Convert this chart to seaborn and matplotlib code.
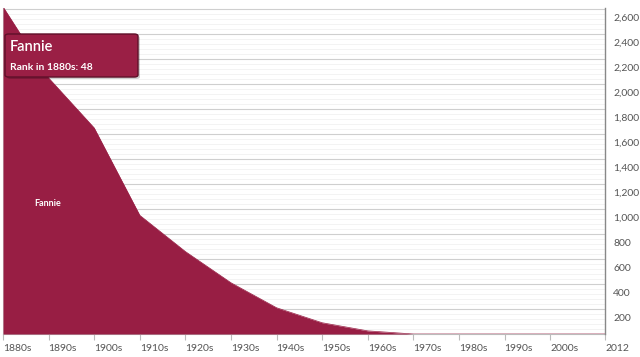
import matplotlib
matplotlib.use("Agg")
import matplotlib.pyplot as plt
import matplotlib.patches as mpatches
from matplotlib.transforms import ScaledTranslation
import seaborn as sns
import pandas as pd

years = [1880, 1890, 1900, 1910, 1920, 1930, 1940, 1950, 1960, 1970, 1980, 1990, 2000, 2012]
counts = [2620, 2050, 1650, 950, 660, 410, 210, 90, 25, 0, 0, 0, 0, 0]
xlabels = ["1880s", "1890s", "1900s", "1910s", "1920s", "1930s", "1940s", "1950s",
           "1960s", "1970s", "1980s", "1990s", "2000s", "2012"]
yticks = list(range(200, 2601, 200))
name = "Fannie"
rank_text = "Rank in 1880s: 48"

sns.set_style("white")
plt.rcParams["font.family"] = ["Lato", "DejaVu Sans"]

W, H = 640, 357
fig = plt.figure(figsize=(W / 100, H / 100), dpi=100)
ax = fig.add_axes([3 / W, (357 - 334) / H, (605 - 3) / W, (334 - 8) / H])

df = pd.DataFrame({"year": years, "count": counts})
color = "#981E44"
sns.lineplot(data=df, x="year", y="count", ax=ax, color=color, lw=0.5)
ax.fill_between(df["year"], df["count"], 0, color=color, lw=0, zorder=3)

ax.set_xlim(1880, 2012)
ax.set_ylim(0, 2610)

# grid
for v in range(40, 2610, 40):
    if v % 200:
        ax.axhline(v, color="#f1f1f1", lw=0.6, zorder=0)
for v in yticks:
    ax.axhline(v, color="#cfcfcf", lw=0.8, zorder=1)

ax.set_xticks(years)
ax.set_xticklabels(xlabels, ha="left", fontsize=7.5, color="#555555")
ax.tick_params(axis="x", length=4, color="#bbbbbb", width=0.8, pad=3, bottom=True)

ax.yaxis.tick_right()
ax.set_yticks(yticks)
ax.set_yticklabels([f"{v:,}" for v in yticks], fontsize=7.5, color="#555555")
ax.tick_params(axis="y", length=0, pad=6)
off = ScaledTranslation(0, -8 / 100, fig.dpi_scale_trans)
for lab in ax.get_yticklabels():
    lab.set_transform(lab.get_transform() + off)

ax.set_xlabel("")
ax.set_ylabel("")
ax.spines["top"].set_visible(False)
ax.spines["right"].set_color("#888888")
ax.spines["right"].set_linewidth(1)
ax.spines["left"].set_color("#cccccc")
ax.spines["bottom"].set_color("#bbbbbb")
ax.spines["right"].set_zorder(5)

# label inside area
ax.text(1886.8, 1048, name, color="white", fontsize=6.5, fontweight="bold",
        va="center", zorder=6)

# tooltip
sh = mpatches.FancyBboxPatch((7 / W, 1 - 79 / H), 133 / W, 43 / H,
                             boxstyle="round,pad=0,rounding_size=0.006",
                             transform=fig.transFigure, fc="#00000030", ec="none", zorder=9)
fig.patches.append(sh)
box = mpatches.FancyBboxPatch((5 / W, 1 - 77 / H), 133 / W, 43 / H,
                              boxstyle="round,pad=0,rounding_size=0.006",
                              transform=fig.transFigure, fc="#9A1F45", ec="#5e1029",
                              lw=1, zorder=10)
fig.patches.append(box)
fig.text(10 / W, 1 - 47 / H, name, color="white", fontsize=10.5, fontweight="semibold",
         va="center", zorder=11)
fig.text(10 / W, 1 - 67 / H, rank_text, color="white", fontsize=7.5, fontweight="bold",
         va="center", zorder=11)

fig.savefig("out.png", dpi=100)
